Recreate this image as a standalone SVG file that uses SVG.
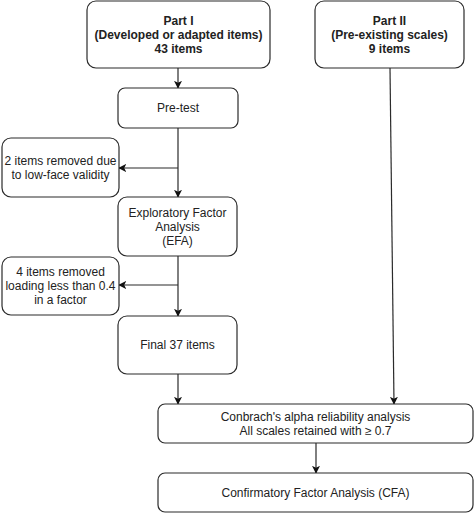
<svg xmlns="http://www.w3.org/2000/svg" width="474" height="513" viewBox="0 0 474 513">
<defs>
<style>
.box{fill:#ffffff;stroke:#2b2b2b;stroke-width:1.2}
.t{font-family:"Liberation Sans",Arial,sans-serif;font-size:12px;fill:#222;text-anchor:middle;dominant-baseline:central}
.b{font-weight:bold}
.c{fill:none;stroke:#2b2b2b;stroke-width:1.2}
</style>
<marker id="arr" viewBox="0 0 10 10" refX="9" refY="5" markerWidth="8" markerHeight="8" markerUnits="userSpaceOnUse" orient="auto">
<path d="M0,0 L10,5 L0,10 L2.5,5 Z" fill="#111"/>
</marker>
</defs>
<rect width="474" height="513" fill="#ffffff"/>
<g id="connectors">
<line class="c" x1="178" y1="68" x2="178" y2="88" marker-end="url(#arr)"/>
<line class="c" x1="178" y1="128" x2="178" y2="197" marker-end="url(#arr)"/>
<line class="c" x1="178" y1="168" x2="119" y2="168" marker-end="url(#arr)"/>
<line class="c" x1="178" y1="256" x2="178" y2="316" marker-end="url(#arr)"/>
<line class="c" x1="178" y1="285" x2="119" y2="285" marker-end="url(#arr)"/>
<line class="c" x1="178" y1="374" x2="178" y2="404" marker-end="url(#arr)"/>
<line class="c" x1="390" y1="68" x2="394" y2="404" marker-end="url(#arr)"/>
<line class="c" x1="316" y1="443" x2="316" y2="473" marker-end="url(#arr)"/>
</g>
<g id="part1">
<rect class="box" x="87" y="1" width="183" height="67" rx="9"/>
<text class="t b" x="178.5" y="21">Part I</text>
<text class="t b" x="178.5" y="35">(Developed or adapted items)</text>
<text class="t b" x="178.5" y="49">43 items</text>
</g>
<g id="part2">
<rect class="box" x="315" y="1" width="149" height="67" rx="9"/>
<text class="t b" x="389.5" y="21">Part II</text>
<text class="t b" x="389.5" y="35">(Pre-existing scales)</text>
<text class="t b" x="389.5" y="49">9 items</text>
</g>
<g id="pretest">
<rect class="box" x="118" y="88" width="120" height="40" rx="7"/>
<text class="t" x="178" y="108">Pre-test</text>
</g>
<g id="removed2">
<rect class="box" x="2" y="138" width="117" height="59" rx="9"/>
<text class="t" x="60.5" y="161">2 items removed due</text>
<text class="t" x="60.5" y="175">to low-face validity</text>
</g>
<g id="efa">
<rect class="box" x="118" y="197" width="119" height="59" rx="9"/>
<text class="t" x="177.5" y="213">Exploratory Factor</text>
<text class="t" x="177.5" y="227">Analysis</text>
<text class="t" x="177.5" y="241">(EFA)</text>
</g>
<g id="removed4">
<rect class="box" x="2" y="257" width="117" height="58" rx="9"/>
<text class="t" x="60.5" y="272">4 items removed</text>
<text class="t" x="60.5" y="286">loading less than 0.4</text>
<text class="t" x="60.5" y="300">in a factor</text>
</g>
<g id="final">
<rect class="box" x="118" y="316" width="119" height="58" rx="9"/>
<text class="t" x="177.5" y="345">Final 37 items</text>
</g>
<g id="alpha">
<rect class="box" x="158" y="404" width="315" height="39" rx="7"/>
<text class="t" x="315.5" y="417">Conbrach's alpha reliability analysis</text>
<text class="t" x="315.5" y="431">All scales retained with ≥ 0.7</text>
</g>
<g id="cfa">
<rect class="box" x="158" y="473" width="315" height="39" rx="7"/>
<text class="t" x="315.5" y="493">Confirmatory Factor Analysis (CFA)</text>
</g>
</svg>
